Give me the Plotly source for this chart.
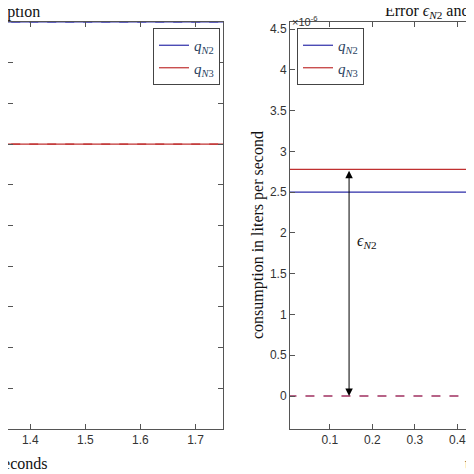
import plotly.graph_objects as go

# left panel: consumption (cropped view)
t_left = [1.3, 1.45, 1.6, 1.75]
q_n2 = [10.0, 10.0, 10.0, 10.0]
q_n3 = [7.0, 7.0, 7.0, 7.0]

# right panel: error values (x 1e-6)
t_right = [0.0, 0.2, 0.4, 0.6]
err_n2 = [2.5, 2.5, 2.5, 2.5]
err_n3 = [2.78, 2.78, 2.78, 2.78]
err_ref = [0.0, 0.0, 0.0, 0.0]

left_xticks = [1.4, 1.5, 1.6, 1.7]
right_xticks = [0.1, 0.2, 0.3, 0.4]
right_yticks = [0, 0.5, 1, 1.5, 2, 2.5, 3, 3.5, 4, 4.5]

BLUE = "#2c2ca8"
RED = "#c03030"
SERIF = "Liberation Serif"

# page puts the figure 8px in from the corner
OFF = 8
SIZE = 474 - OFF


def px(x):
    return (x - OFF) / SIZE


def py(y):
    return 1 - (y - OFF) / SIZE


fig = go.Figure()
fig.add_trace(go.Scatter(x=t_left, y=q_n2, mode="lines", line=dict(color=BLUE, width=1.2),
                         name="<i>q</i><sub><i>N</i>2</sub>", legend="legend"))
fig.add_trace(go.Scatter(x=t_left, y=q_n3, mode="lines", line=dict(color=RED, width=1.2),
                         name="<i>q</i><sub><i>N</i>3</sub>", legend="legend"))
fig.add_trace(go.Scatter(x=t_left, y=q_n2, mode="lines", line=dict(color=BLUE, width=1.2, dash="dash"),
                         showlegend=False))
fig.add_trace(go.Scatter(x=t_left, y=q_n3, mode="lines", line=dict(color=RED, width=1.2, dash="dash"),
                         showlegend=False))

fig.add_trace(go.Scatter(x=t_right, y=err_n2, mode="lines", line=dict(color=BLUE, width=1.2),
                         name="<i>q</i><sub><i>N</i>2</sub>", xaxis="x2", yaxis="y2", legend="legend2"))
fig.add_trace(go.Scatter(x=t_right, y=err_n3, mode="lines", line=dict(color=RED, width=1.2),
                         name="<i>q</i><sub><i>N</i>3</sub>", xaxis="x2", yaxis="y2", legend="legend2"))
fig.add_trace(go.Scatter(x=t_right, y=err_ref, mode="lines", line=dict(color="#a03060", width=1.6, dash="dash"),
                         showlegend=False, xaxis="x2", yaxis="y2"))

ax_style = dict(showline=True, linecolor="#555", linewidth=1, ticks="inside", ticklen=5,
                tickcolor="#555", showgrid=False, zeroline=False, mirror="ticks",
                tickfont=dict(family="Liberation Sans", size=12, color="#333"))

fig.update_layout(
    width=SIZE, height=SIZE, margin=dict(l=0, r=0, t=0, b=0),
    plot_bgcolor="white", paper_bgcolor="white",
    xaxis=dict(domain=[0, px(223)], range=[1.345 + 0.1 * OFF / 55, 1.75], tickvals=left_xticks, **ax_style),
    yaxis=dict(domain=[py(429), py(22)], range=[0, 10], dtick=1, showticklabels=False, **ax_style),
    xaxis2=dict(domain=[px(290), 1], range=[0.006, 0.439], tickvals=right_xticks, anchor="y2", **ax_style),
    yaxis2=dict(domain=[py(429), py(22)], range=[-0.404, 4.586], tickvals=right_yticks,
                ticktext=[f"{v:g}" for v in right_yticks], anchor="x2", **ax_style),
    legend=dict(x=px(153), y=py(28), xanchor="left", yanchor="top", bordercolor="#444", borderwidth=1,
                bgcolor="white", font=dict(family=SERIF, size=15), tracegroupgap=0),
    legend2=dict(x=px(297), y=py(28), xanchor="left", yanchor="top", bordercolor="#444", borderwidth=1,
                 bgcolor="white", font=dict(family=SERIF, size=15), tracegroupgap=0),
    showlegend=True,
)

ann = [
    dict(text="Consumption", x=px(42), y=py(12), xref="paper", yref="paper", xanchor="right",
         yanchor="middle", showarrow=False, font=dict(family=SERIF, size=16, color="#111")),
    dict(text="Error <i>ϵ</i><sub><i>N</i>2</sub> and approximation", x=px(383), y=py(12),
         xref="paper", yref="paper", xanchor="left", yanchor="middle", showarrow=False,
         font=dict(family=SERIF, size=16, color="#111")),
    dict(text="time in seconds", x=px(50), y=py(463), xref="paper", yref="paper", xanchor="right",
         yanchor="middle", showarrow=False, font=dict(family=SERIF, size=16, color="#111")),
    dict(text="time in seconds", x=px(463), y=py(463), xref="paper", yref="paper", xanchor="left",
         yanchor="middle", showarrow=False, font=dict(family=SERIF, size=16, color="#111")),
    dict(text="consumption in liters per second", x=px(258), y=py(235), xref="paper", yref="paper",
         textangle=-90, showarrow=False, font=dict(family=SERIF, size=16, color="#111")),
    dict(text="×10<sup>-6</sup>", x=px(290), y=py(12), xref="paper", yref="paper", xanchor="left",
         showarrow=False, font=dict(family="Liberation Sans", size=11, color="#333")),
    dict(x=0.145, y=0, ax=0.145, ay=err_n3[0], xref="x2", yref="y2", axref="x2", ayref="y2",
         showarrow=True, arrowhead=2, startarrowhead=2, arrowside="end+start", arrowsize=1.5,
         arrowwidth=1, arrowcolor="black", text=""),
    dict(text="<i>ϵ</i><sub><i>N</i>2</sub>", x=0.158, y=1.9, xref="x2", yref="y2", xanchor="left",
         showarrow=False, font=dict(family=SERIF, size=16, color="#111")),
]
fig.update_layout(annotations=ann)

fig.write_html("out.html")
